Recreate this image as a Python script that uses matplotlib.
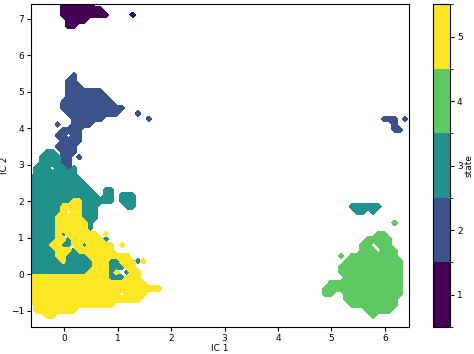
import numpy as np
import matplotlib
matplotlib.use("Agg")
import matplotlib.pyplot as plt
from matplotlib.colors import ListedColormap, BoundaryNorm

# state map, '.' = no data
# grid: x = -0.62 + 0.1*i, y = -1.45 + 0.15*j ; rows listed top (j=59) to bottom (j=0)
x0, dx, nx = -0.62, 0.1, 72
y0, dy, ny = -1.45, 0.15, 60

# left cluster, columns 0..27
left_rows = [
    "......111111................",
    "......11111111..............",
    "......111111111....1........",
    ".......1111.................",
    ".......11...................",
    "............................",
    "............................",
    "............................",
    "............................",
    "............................",
    "............................",
    "............................",
    "............................",
    "........2...................",
    ".......22...................",
    ".......222..................",
    ".......2222222..............",
    ".......22222222.............",
    "......2222222222............",
    "......222222222222..........",
    ".......2222222222...2.......",
    "........222222........2.....",
    ".....2..2222................",
    "......2222..................",
    ".....22.22..................",
    "......2222..................",
    ".....2222...................",
    "...33.222...................",
    "..333322.2..................",
    "..333322....................",
    ".333.3323...................",
    ".33333333...................",
    "3333333333..................",
    "33333333333.................",
    "333333333333..33............",
    "3333333333333.33.333........",
    "3333333355333333.333........",
    "3333335555333.....33........",
    "3333335.55333...............",
    "3333355555333...............",
    "333335555553................",
    "333335555553................",
    "3333353555555.5.............",
    "333335535555553.............",
    "3333553355355555.5..........",
    "3333355535555555............",
    "3333355333355555555.........",
    "3333335333335553355535......",
    "33333333333355533355........",
    "33333333333555535.355.......",
    "555555555555555333555.......",
    "5555555555555555555555......",
    "5555555555555555555555555...",
    "55555555555555555.5555......",
    "555555555555555555555.......",
    ".555555555555555............",
    ".55555555...................",
    "...55.......................",
    "............................",
    "............................",
]

# right cluster, columns 54..71, rows j=39 down to j=0
right_rows = [
    "..................",
    "............222.2.",
    "..............2...",
    "..............22..",
    "..................",
    "..................",
    "..................",
    "..................",
    "..................",
    "..................",
    "..................",
    "..................",
    "..................",
    "..................",
    "..................",
    "..................",
    "..................",
    "......333333......",
    ".......33.3.......",
    "..................",
    "..............4...",
    "..................",
    "...........44.....",
    ".........44444....",
    "........44.444....",
    "........444.444...",
    "....4.444444444...",
    ".....44444444444..",
    "....444444444444..",
    "....444444444444..",
    ".....44444444444..",
    "..44444444444444..",
    ".444444444444444..",
    ".44..44444444444..",
    ".....4444444444...",
    "......444444444...",
    ".........44444....",
    "..........4.......",
    "..................",
    "..................",
]
right_col0 = 54

states = [1, 2, 3, 4, 5]
state_colors = ["#440154", "#3b528b", "#21918c", "#5ec962", "#fde725"]

# assemble the grid
Z = np.zeros((ny, nx), dtype=int)
for r, row in enumerate(left_rows):
    j = ny - 1 - r
    for i, ch in enumerate(row):
        if ch != ".":
            Z[j, i] = int(ch)
for r, row in enumerate(right_rows):
    j = 39 - r
    for i, ch in enumerate(row):
        if ch != ".":
            Z[j, right_col0 + i] = int(ch)

xs = x0 + dx * np.arange(nx)
ys = y0 + dy * np.arange(ny)
X, Y = np.meshgrid(xs, ys)

fig = plt.figure(figsize=(4.74, 3.54), dpi=100)
ax = fig.add_axes([0.0654, 0.0763, 0.7975, 0.9124])
cax = fig.add_axes([0.9135, 0.0763, 0.0359, 0.911])

for s, c in zip(states, state_colors):
    mask = (Z == s).astype(float)
    if mask.sum() == 0:
        continue
    ax.contourf(X, Y, mask, levels=[0.5, 1.5], colors=[c])

ax.set_xlim(-0.62, 6.45)
ax.set_ylim(-1.45, 7.40)
ax.set_xticks(range(0, 7))
ax.set_yticks(range(-1, 8))
ax.tick_params(labelsize=6.5, length=3, pad=2)
ax.set_xlabel("IC 1", fontsize=6.5, labelpad=1)
ax.set_ylabel("IC 2", fontsize=6.5, labelpad=1)

cmap = ListedColormap(state_colors)
norm = BoundaryNorm(np.arange(0.5, 6.5, 1.0), cmap.N)
sm = plt.cm.ScalarMappable(cmap=cmap, norm=norm)
cb = fig.colorbar(sm, cax=cax, ticks=states)
cb.ax.tick_params(labelsize=6.5, length=3, pad=2)
cb.set_label("state", fontsize=6.5, labelpad=1)

fig.savefig("out.png", dpi=100)
